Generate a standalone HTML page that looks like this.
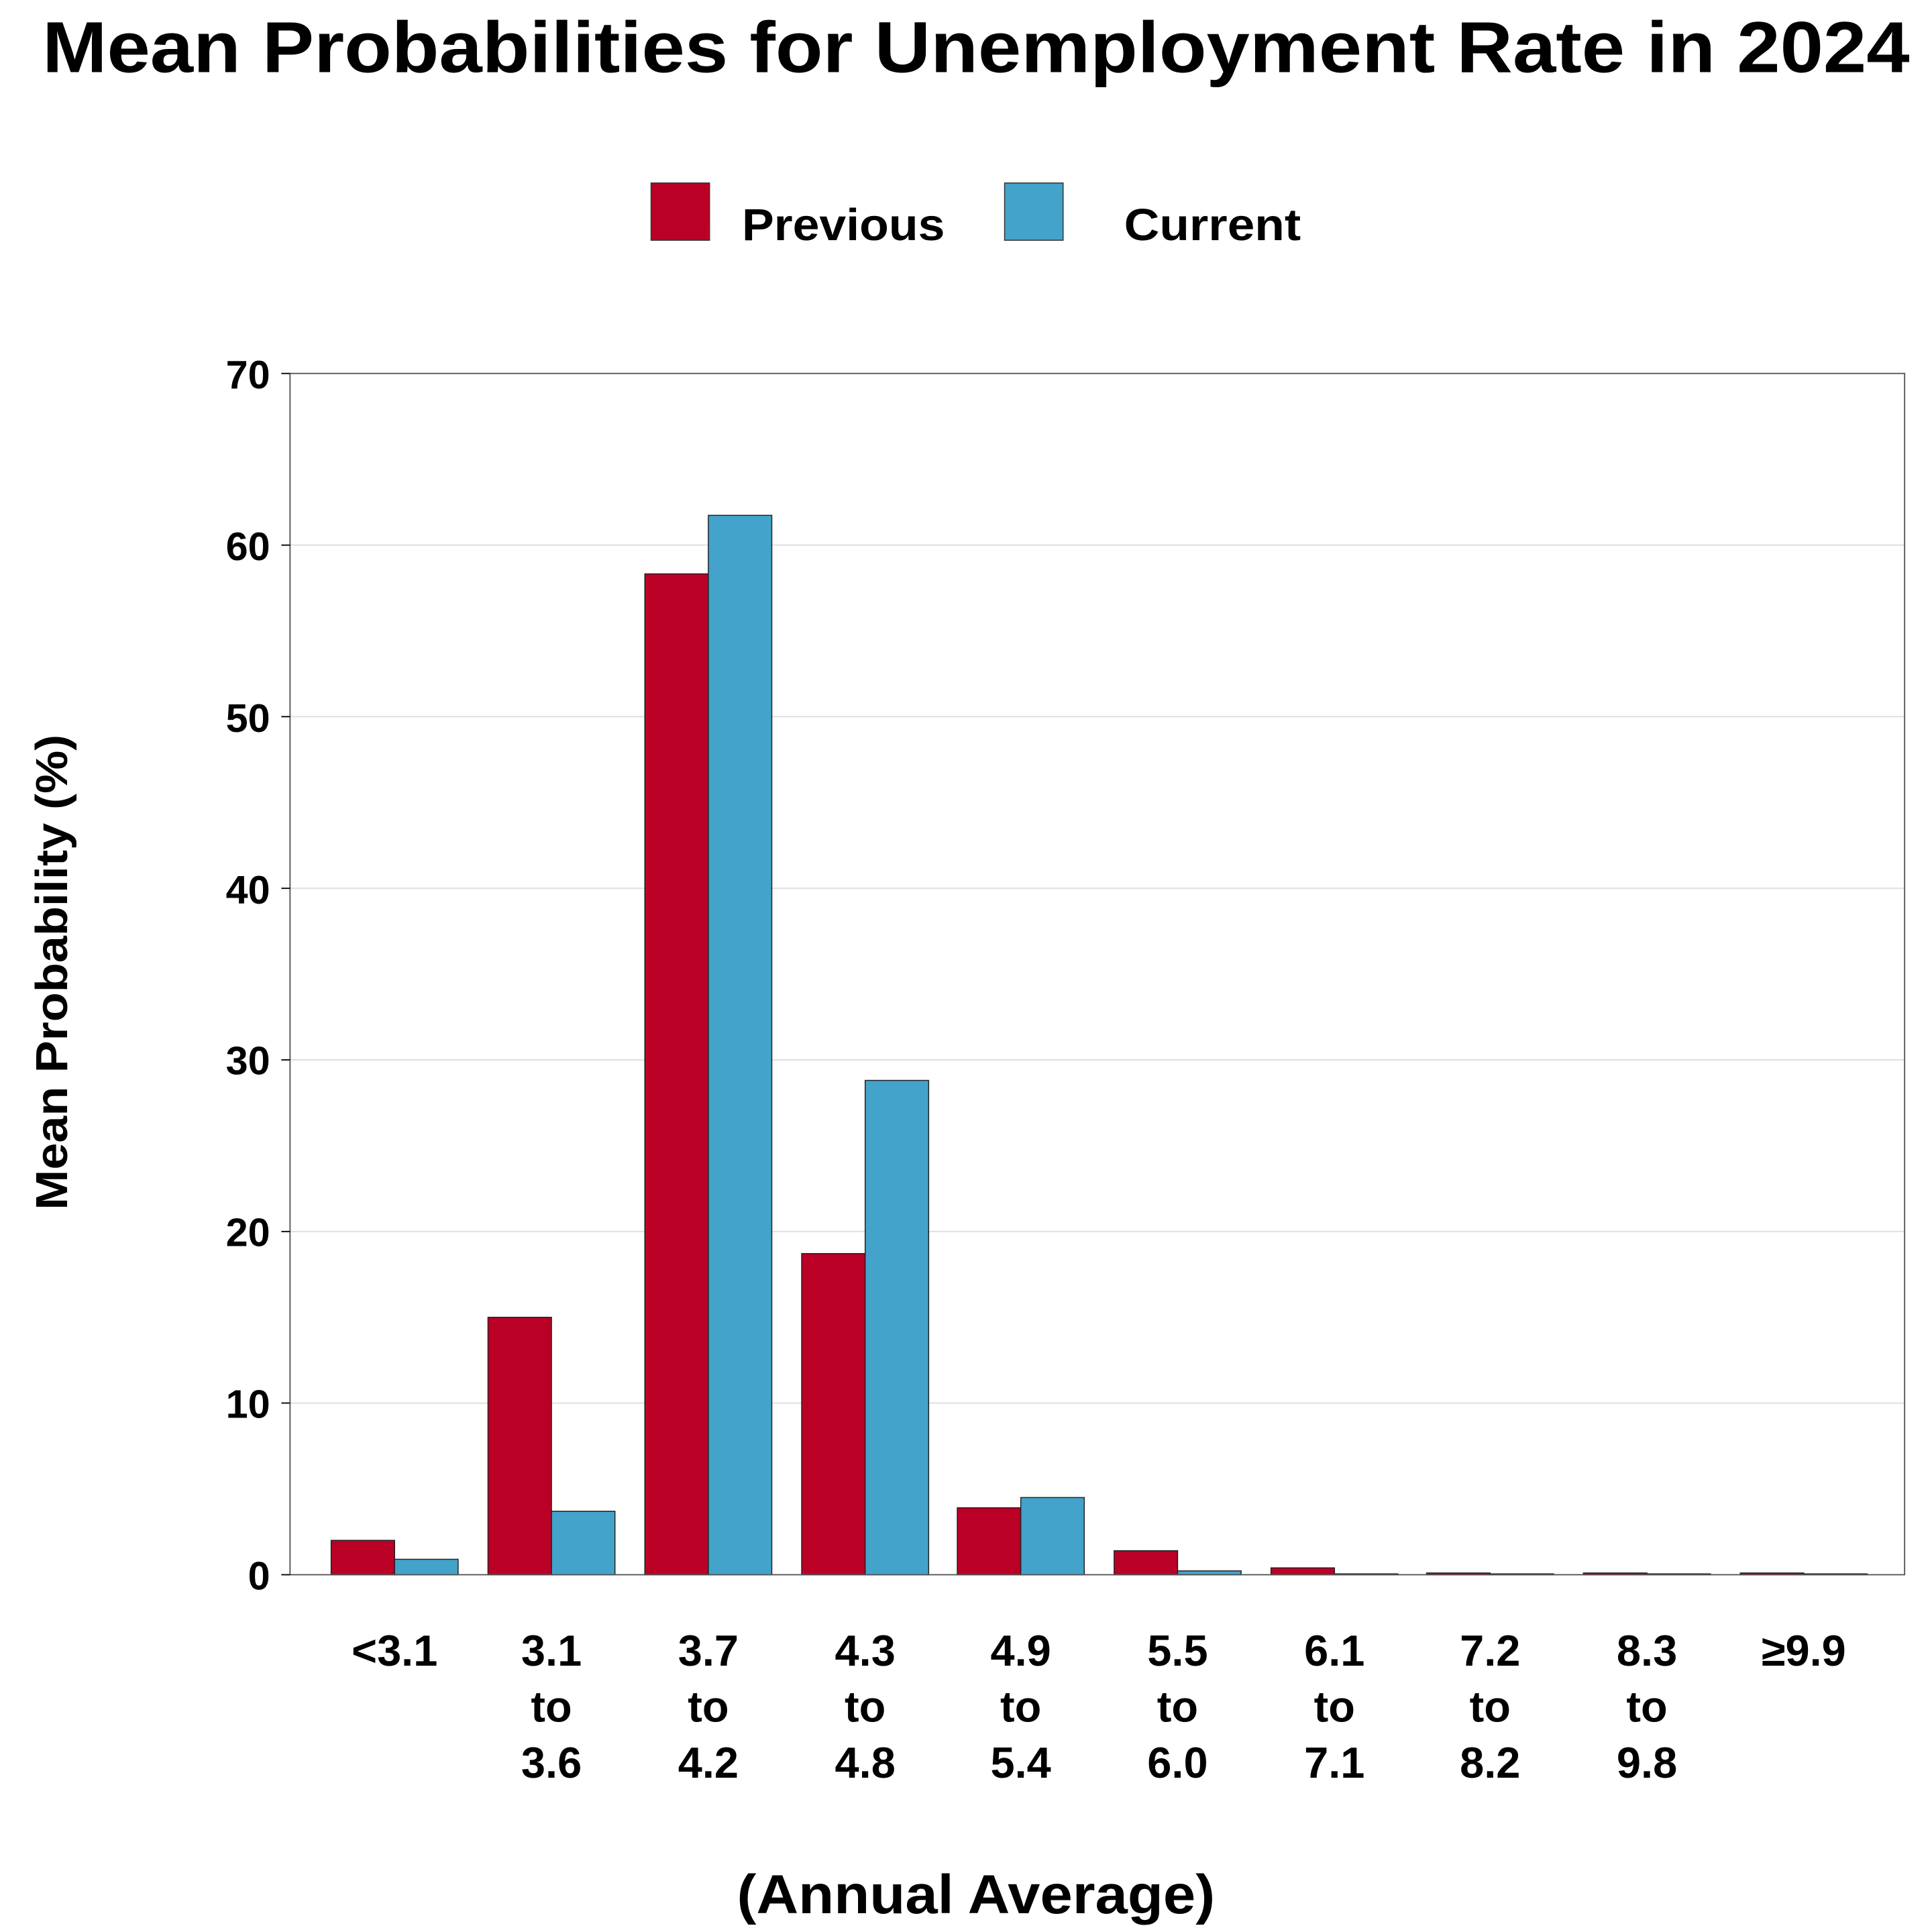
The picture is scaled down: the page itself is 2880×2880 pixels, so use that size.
<!DOCTYPE html>
<html><head><meta charset="utf-8"><style>
html,body{margin:0;padding:0;background:#fff}
svg{display:block}
text{font-family:"Liberation Sans",sans-serif;font-weight:bold;fill:#000}
</style></head><body>
<svg width="2880" height="2880" viewBox="0 0 1552 1552" xmlns="http://www.w3.org/2000/svg">
<text x="784" y="58" font-size="58" text-anchor="middle" textLength="1500" lengthAdjust="spacingAndGlyphs">Mean Probabilities for Unemployment Rate in 2024</text>
<rect x="523" y="147" width="47" height="46" fill="#bb0026" stroke="#333" stroke-width="0.8"/>
<text x="596" y="193" font-size="36" textLength="163" lengthAdjust="spacingAndGlyphs">Previous</text>
<rect x="807" y="147" width="47" height="46" fill="#43a3ca" stroke="#333" stroke-width="0.8"/>
<text x="903" y="193" font-size="36" textLength="142" lengthAdjust="spacingAndGlyphs">Current</text>
<g stroke="#dddddd" stroke-width="1">
<line x1="233" x2="1530" y1="1127.1" y2="1127.1"/>
<line x1="233" x2="1530" y1="989.3" y2="989.3"/>
<line x1="233" x2="1530" y1="851.4" y2="851.4"/>
<line x1="233" x2="1530" y1="713.6" y2="713.6"/>
<line x1="233" x2="1530" y1="575.7" y2="575.7"/>
<line x1="233" x2="1530" y1="437.9" y2="437.9"/>
</g>
<g stroke="#222" stroke-width="0.8">
<rect x="266" y="1237.4" width="51" height="27.6" fill="#bb0026"/>
<rect x="317" y="1252.6" width="51" height="12.4" fill="#43a3ca"/>
<rect x="392" y="1058.2" width="51" height="206.8" fill="#bb0026"/>
<rect x="443" y="1214" width="51" height="51" fill="#43a3ca"/>
<rect x="518" y="461" width="51" height="804" fill="#bb0026"/>
<rect x="569" y="414" width="51" height="851" fill="#43a3ca"/>
<rect x="644" y="1007" width="51" height="258" fill="#bb0026"/>
<rect x="695" y="867.9" width="51" height="397.1" fill="#43a3ca"/>
<rect x="769" y="1211.2" width="51" height="53.8" fill="#bb0026"/>
<rect x="820" y="1203" width="51" height="62" fill="#43a3ca"/>
<rect x="895" y="1245.7" width="51" height="19.3" fill="#bb0026"/>
<rect x="946" y="1261.9" width="51" height="3.1" fill="#43a3ca"/>
<rect x="1021" y="1259.5" width="51" height="5.5" fill="#bb0026"/>
<rect x="1072" y="1264.3" width="51" height="0.7" fill="#43a3ca"/>
<rect x="1146" y="1263.6" width="51" height="1.4" fill="#bb0026"/>
<rect x="1197" y="1264.3" width="51" height="0.7" fill="#43a3ca"/>
<rect x="1272" y="1263.6" width="51" height="1.4" fill="#bb0026"/>
<rect x="1323" y="1264.3" width="51" height="0.7" fill="#43a3ca"/>
<rect x="1398" y="1263.6" width="51" height="1.4" fill="#bb0026"/>
<rect x="1449" y="1264.3" width="51" height="0.7" fill="#43a3ca"/>
</g>
<rect x="233" y="300" width="1297" height="965" fill="none" stroke="#555" stroke-width="1"/>
<g stroke="#000" stroke-width="1">
<line x1="226" x2="233" y1="300" y2="300"/><line x1="226" x2="233" y1="437.9" y2="437.9"/>
<line x1="226" x2="233" y1="575.7" y2="575.7"/><line x1="226" x2="233" y1="713.6" y2="713.6"/>
<line x1="226" x2="233" y1="851.4" y2="851.4"/><line x1="226" x2="233" y1="989.3" y2="989.3"/>
<line x1="226" x2="233" y1="1127.1" y2="1127.1"/><line x1="226" x2="233" y1="1265" y2="1265"/>
</g>
<g font-size="32" text-anchor="end">
<text x="217" y="312">70</text><text x="217" y="450">60</text><text x="217" y="588">50</text>
<text x="217" y="726">40</text><text x="217" y="863">30</text><text x="217" y="1001">20</text>
<text x="217" y="1139">10</text><text x="217" y="1277">0</text>
</g>
<g font-size="35" text-anchor="middle">
<text x="317" y="1338">&lt;3.1</text>
<text x="443" y="1338">3.1</text><text x="443" y="1383">to</text><text x="443" y="1428">3.6</text>
<text x="569" y="1338">3.7</text><text x="569" y="1383">to</text><text x="569" y="1428">4.2</text>
<text x="695" y="1338">4.3</text><text x="695" y="1383">to</text><text x="695" y="1428">4.8</text>
<text x="820" y="1338">4.9</text><text x="820" y="1383">to</text><text x="820" y="1428">5.4</text>
<text x="946" y="1338">5.5</text><text x="946" y="1383">to</text><text x="946" y="1428">6.0</text>
<text x="1072" y="1338">6.1</text><text x="1072" y="1383">to</text><text x="1072" y="1428">7.1</text>
<text x="1197" y="1338">7.2</text><text x="1197" y="1383">to</text><text x="1197" y="1428">8.2</text>
<text x="1323" y="1338">8.3</text><text x="1323" y="1383">to</text><text x="1323" y="1428">9.8</text>
<text x="1449" y="1338">≥9.9</text>
</g>
<text x="784" y="1537" font-size="44" text-anchor="middle" textLength="384" lengthAdjust="spacingAndGlyphs">(Annual Average)</text>
<text transform="translate(54,781) rotate(-90)" font-size="36" text-anchor="middle" textLength="382" lengthAdjust="spacingAndGlyphs">Mean Probability (%)</text>
</svg>
</body></html>
